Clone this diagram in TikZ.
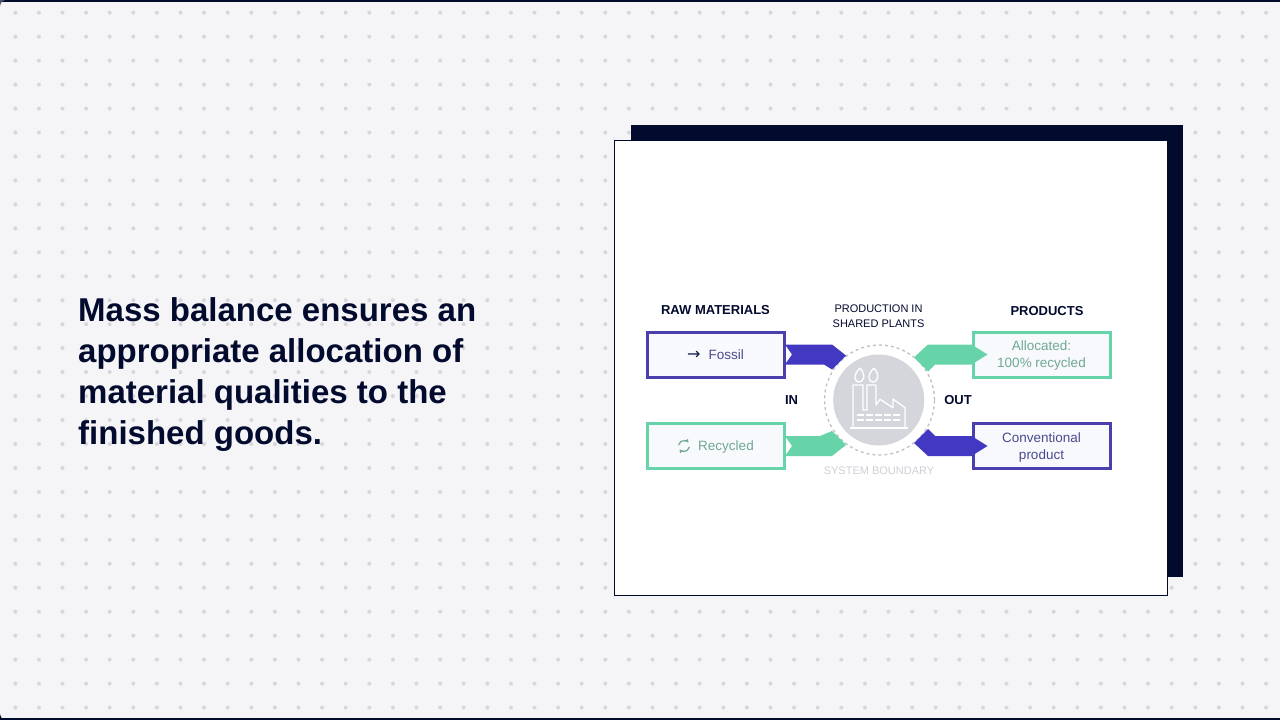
\documentclass[tikz,border=0pt]{standalone}
\usepackage{fontspec}
\setmainfont{Liberation Sans}
\newfontfamily\symfont{DejaVu Sans}
\usetikzlibrary{positioning,fadings,arrows.meta}
\definecolor{navy}{HTML}{020A2E}
\definecolor{pagegrey}{HTML}{F5F5F8}
\definecolor{dotgrey}{HTML}{D6D6DC}
\definecolor{shadowgrey}{HTML}{DEDEE2}
\definecolor{mblue}{HTML}{4338C2}
\definecolor{mborder}{HTML}{4B3FAE}
\definecolor{mgreen}{HTML}{67D3A8}
\definecolor{txtblue}{HTML}{4A4A8E}
\definecolor{txtgreen}{HTML}{6FA893}
\definecolor{circgrey}{HTML}{D5D6DC}
\definecolor{ringgrey}{HTML}{BEC0C8}
\definecolor{boxfill}{HTML}{F8F9FD}
\tikzfading[name=sidefade, left color=transparent!100, middle color=transparent!0, right color=transparent!100]
\tikzset{>=latex}
\tikzset{
    box/.style={draw, line width=3pt, fill=boxfill, minimum width=137pt, minimum height=45pt,
        inner sep=0pt, align=center, font=\fontsize{13.5}{17}\selectfont},
    oneline/.style={execute at begin node={\rule{0pt}{11pt}}},
    twoline/.style={text depth=0pt},
    bluebox/.style={box, draw=mborder, text=txtblue},
    greenbox/.style={box, draw=mgreen, text=txtgreen},
    title/.style={font=\fontsize{13}{15}\selectfont\bfseries, text=navy, inner sep=0pt},
    icon/.style={white, line width=1.3pt},
    recycle/.style={txtgreen, line width=1.2pt, -{Latex[length=3.5pt,width=4.5pt]}}
}
\begin{document}
\begin{tikzpicture}[x=1pt, y=-1pt]
    \useasboundingbox (0,0) rectangle (1280,720);
    \fill[pagegrey] (0,0) rectangle (1280,720);
    \shade[top color=pagegrey, bottom color=shadowgrey, path fading=sidefade, fit fading=true] (130,695) rectangle (1210,718);
    % dots
    \foreach \i in {0,...,54}
        \foreach \j in {0,...,29}
            \fill[dotgrey] ({15.3+23.6*\i},{12.7+23.96*\j}) circle (2pt);
    \fill[navy] (0,0) rectangle (1280,2);
    \fill[navy] (0,717.5) rectangle (1280,720);
    \fill[navy!70] (0,0) -- (5,0) .. controls (2,1) and (1,2) .. (0,6) -- cycle;
    \fill[navy] (0,720) -- (5,720) .. controls (2,719) and (1,718) .. (0,714) -- cycle;
    % card
    \fill[navy] (631,125) rectangle (1183,577);
    \draw[navy, fill=white, line width=1pt] (614.5,140.5) rectangle (1167.5,595.5);
    % left text
    \node[anchor=west, align=left, inner sep=0pt, text=navy, font=\fontsize{33}{41}\selectfont\bfseries] (headline) at (78,375)
        {Mass balance ensures an\\appropriate allocation of\\material qualities to the\\finished goods.};
    % boxes
    \node[bluebox, oneline] (fossil) at (715.5,354.5) {{\symfont\fontsize{16}{16}\selectfont\textcolor{navy!75!txtblue}{→}}\hspace{8pt}Fossil};
    \node[greenbox, oneline] (recycled) at (715.5,446) {\hspace{21pt}Recycled};
    \node[greenbox, twoline] (allocated) at (1041.5,354.5) {Allocated:\\100\% recycled};
    \node[bluebox, twoline] (conventional) at (1041.5,446) {Conventional\\product};
    % titles
    \node[title] (raw) at (715.5,310) {RAW MATERIALS};
    \node[title] (products) at (1047,311) {PRODUCTS};
    \node[title, font=\fontsize{11}{15}\selectfont, align=center] (production) at (878.5,316) {PRODUCTION IN\\SHARED PLANTS};
    \node[title] (in) at (791.5,400) {IN};
    \node[title] (out) at (958,400) {OUT};
    % recycle icon
    \draw[recycle] (678.6,445) arc[start angle=170, end angle=35, radius=5.5pt];
    \draw[recycle] (689.4,447) arc[start angle=-10, end angle=-145, radius=5.5pt];
    % plant
    \node[circle, fill=circgrey, minimum size=91pt, inner sep=0pt] (plant) at (878.7,400) {};
    \node[circle, draw=ringgrey, dash pattern=on 3pt off 3pt, line width=1.3pt, minimum size=110pt, inner sep=0pt] (boundary) at (879.5,400) {};
    \node[font=\fontsize{11}{13}\selectfont, text=ringgrey!75, inner sep=0pt] (system) at (879,471) {SYSTEM BOUNDARY};
    % icon
    \draw[icon] (850,428) -- (908,428);
    \draw[icon, line join=round] (853,428) -- (853,385) -- (863,385) -- (863,410) -- (867,410) -- (867,385) -- (876,385) -- (876,405)
        -- (880,399.3) -- (893,407.7) -- (893,399) -- (905,407.7) -- (905,428);
    \foreach \x in {859,873}
        \draw[icon] (\x+1,368) .. controls (\x+8,376) and (\x+4,382) .. (\x,382) .. controls (\x-4,382) and (\x-7,376) .. (\x+1,368);
    \foreach \y in {415,420}
        \draw[icon, dash pattern=on 7pt off 2pt] (857,\y) -- (901,\y);
    % arrows
    \fill[mblue] (fossil.east) ++(6.5,0) -- ++(-7,-10) -- ++(47,0) -- ++(14,11) -- ++(-14,14) -- ++(-8,-5) -- ++(-39,0) -- cycle;
    \fill[mgreen] (recycled.east) ++(6.5,0) -- ++(-7,-10) -- ++(35,0) -- ++(12,-5) -- ++(14,14) -- ++(-14,11) -- ++(-47,0) -- cycle;
    \fill[mgreen] (allocated.west) ++(0,-10) -- ++(16,10) -- ++(-16,10) -- ++(-36.5,0) -- ++(-7,7) -- ++(-14,-14) -- ++(14,-13) -- cycle;
    \fill[mblue] (conventional.west) ++(0,-10) -- ++(16,10) -- ++(-16,10) -- ++(-43.5,0) -- ++(-14,-13) -- ++(14,-14) -- ++(7,7) -- cycle;
\end{tikzpicture}
\end{document}
